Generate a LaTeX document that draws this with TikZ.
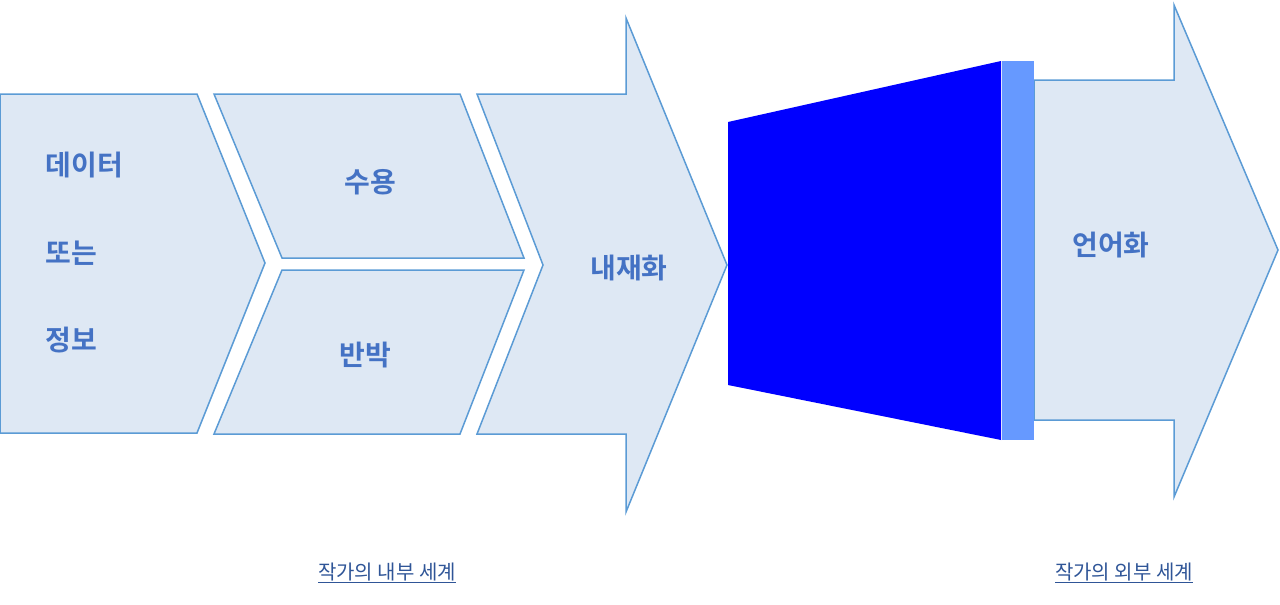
\documentclass[tikz,border=0pt]{standalone}
\usepackage{fontspec}
\newfontfamily\kr{Noto Sans CJK KR}
\newfontfamily\krb{Noto Sans CJK KR Bold}
\definecolor{fillc}{HTML}{DEE8F4}
\definecolor{linec}{HTML}{5B9BD5}
\definecolor{txtc}{HTML}{4472C4}
\definecolor{capc}{HTML}{2F5597}
\definecolor{stripc}{HTML}{6699FF}
\begin{document}
\begin{tikzpicture}[x=1pt,y=-1pt,
 shp/.style={fill=fillc,draw=linec,line width=1.5pt,line join=miter},
 lbl/.style={font=\krb\fontsize{28}{30}\selectfont,text=txtc},
 captxt/.style={font=\kr\fontsize{20}{22}\selectfont,text=capc}]
\useasboundingbox (0,0) rectangle (1280,605);
\draw[shp] (0,94) -- (197,94) -- (265,263) -- (197,433) -- (0,433) -- cycle;
\draw[shp] (214,94) -- (460,94) -- (524,258) -- (282,258) -- cycle;
\draw[shp] (282,270) -- (524,270) -- (460,434) -- (214,434) -- cycle;
\draw[shp] (477,94) -- (626,94) -- (626,18) -- (727,265) -- (626,512) -- (626,434) -- (477,434) -- (543,265) -- cycle;
\draw[shp] (1034,80) -- (1174,80) -- (1174,5) -- (1278,250) -- (1174,497) -- (1174,420) -- (1034,420) -- cycle;
\fill[blue] (728,122) -- (1001,61) -- (1001,440) -- (728,385) -- cycle;
\fill[stripc] (1002,61) rectangle (1034,440);
\node[lbl,anchor=west] (t1) at (42,165) {데이터};
\node[lbl,anchor=west] (t2) at (42,253) {또는};
\node[lbl,anchor=west] (t3) at (42,340) {정보};
\node[lbl] (t4) at (370,182) {수용};
\node[lbl] (t5) at (365,355) {반박};
\node[lbl] (t6) at (629,268) {내재화};
\node[lbl] (t7) at (1111,245) {언어화};
\node[captxt] (c1) at (387,573) {\underline{작가의 내부 세계}};
\node[captxt] (c2) at (1124,573) {\underline{작가의 외부 세계}};
\end{tikzpicture}
\end{document}
